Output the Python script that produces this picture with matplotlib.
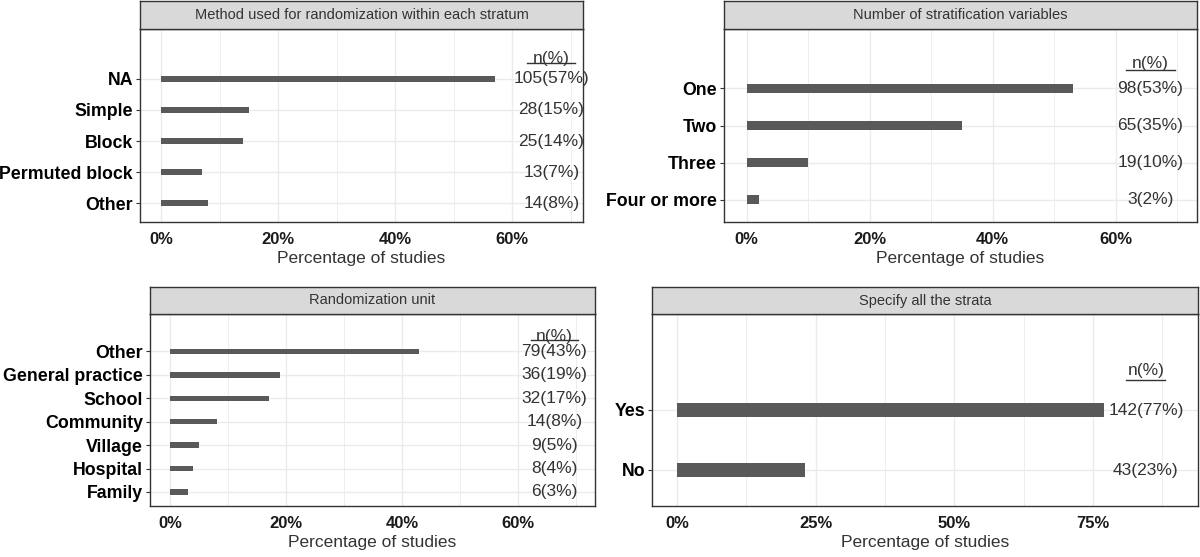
import numpy as np
import matplotlib
matplotlib.use('Agg')
import matplotlib.pyplot as plt

plt.rcParams['font.family'] = ['Liberation Sans', 'DejaVu Sans']

# data
method_cats = ['NA', 'Simple', 'Block', 'Permuted block', 'Other']
method_n = [105, 28, 25, 13, 14]
method_pct = [57, 15, 14, 7, 8]

nvar_cats = ['One', 'Two', 'Three', 'Four or more']
nvar_n = [98, 65, 19, 3]
nvar_pct = [53, 35, 10, 2]

unit_cats = ['Other', 'General practice', 'School', 'Community', 'Village', 'Hospital', 'Family']
unit_n = [79, 36, 32, 14, 9, 8, 6]
unit_pct = [43, 19, 17, 8, 5, 4, 3]

strata_cats = ['Yes', 'No']
strata_n = [142, 43]
strata_pct = [77, 23]

W, H = 1200, 557
fig = plt.figure(figsize=(W / 100, H / 100), dpi=100)


def rect(x0, y0, x1, y1):
    # pixel box (top-left origin) -> figure fraction
    return [x0 / W, 1 - y1 / H, (x1 - x0) / W, (y1 - y0) / H]


def panel(box, strip_top, title, cats, n, pct, xlim, major, minor, lab_x, half, bar_h):
    x0, y0, x1, y1 = box
    ax = fig.add_axes(rect(x0, y0, x1, y1))
    k = len(cats)
    y = np.arange(k, 0, -1)

    ax.set_xlim(*xlim)
    ax.set_ylim(0.4, k + 1.6)
    ax.set_xticks(major)
    ax.set_xticks(minor, minor=True)
    ax.set_xticklabels([f'{v:g}%' for v in major], fontweight='bold', fontsize=12, color='#1a1a1a')
    ax.set_yticks(y)
    ax.set_yticklabels(cats, fontweight='bold', fontsize=12.8, color='black')
    ax.grid(True, which='major', color='#ebebeb', lw=1.0)
    ax.grid(True, which='minor', axis='x', color='#ebebeb', lw=0.6)
    ax.set_axisbelow(True)
    ax.tick_params(axis='x', which='both', length=0, pad=7)
    ax.tick_params(axis='y', length=3, width=0.8, color='#333333', pad=2)
    for s in ax.spines.values():
        s.set_color('#333333')
        s.set_linewidth(1.0)

    ax.barh(y, pct, height=bar_h, color='#595959')
    for yi, ni, pi in zip(y, n, pct):
        ax.text(lab_x, yi, f'{ni}({pi}%)', ha='center', va='center', fontsize=12.5, color='#333333')
    ax.text(lab_x, k + 0.66, 'n(%)', ha='center', va='center', fontsize=12.5, color='#333333')
    ax.plot([lab_x - half, lab_x + half], [k + 0.5, k + 0.5], color='#333333', lw=1.0)

    ax.set_xlabel('Percentage of studies', fontsize=12.5, color='#333333', labelpad=3)

    st = fig.add_axes(rect(x0, strip_top, x1, y0))
    st.set_facecolor('#d9d9d9')
    st.set_xticks([])
    st.set_yticks([])
    for s in st.spines.values():
        s.set_color('#333333')
        s.set_linewidth(1.0)
    st.text(0.5, 0.5, title, ha='center', va='center', fontsize=10.5, color='#333333',
            transform=st.transAxes)
    return ax


panel((140, 29, 583, 222), 1, 'Method used for randomization within each stratum',
      method_cats, method_n, method_pct, (-3.6, 72.1), [0, 20, 40, 60], [10, 30, 50, 70],
      66.7, 4.1, 0.2)
panel((724, 29, 1197, 222), 1, 'Number of stratification variables',
      nvar_cats, nvar_n, nvar_pct, (-3.7, 73.2), [0, 20, 40, 60], [10, 30, 50, 70],
      65.6, 4.0, 0.25)
panel((150, 314, 595, 506), 287, 'Randomization unit',
      unit_cats, unit_n, unit_pct, (-3.5, 73.3), [0, 20, 40, 60], [10, 30, 50, 70],
      66.3, 4.0, 0.23)
panel((652, 314, 1198, 506), 287, 'Specify all the strata',
      strata_cats, strata_n, strata_pct, (-4.5, 93.9), [0, 25, 50, 75], [12.5, 37.5, 62.5, 87.5],
      84.5, 3.5, 0.23)

fig.savefig('out.png', dpi=100)
